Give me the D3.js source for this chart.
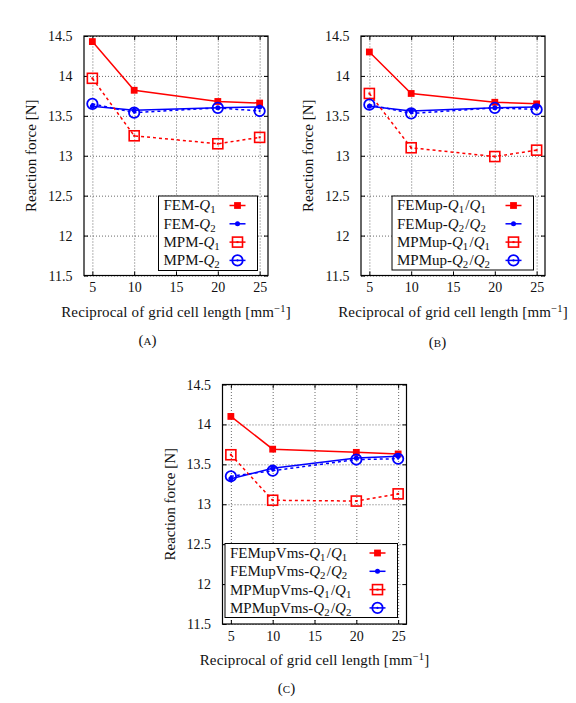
<!DOCTYPE html>
<html>
<head>
<meta charset="utf-8">
<script src="https://cdn.jsdelivr.net/npm/d3@7"></script>
<style>
  body { margin: 0; background: #fff; }
  svg { display: block; }
  .tick line { stroke: #000; }
  .domain { display: none; }
  .grid line { stroke: #444; stroke-width: 0.8; stroke-dasharray: 1,2; }
  .frame { fill: none; stroke: #000; stroke-width: 1.2; }
</style>
</head>
<body>
<div id="chart"></div>
<script>
// x positions (reciprocal of grid cell length)
const xValues = [5, 10, 20, 25]
const xTicks = [5, 10, 15, 20, 25]
const yTicks = [11.5, 12, 12.5, 13, 13.5, 14, 14.5]

// (A) FEM / MPM
const femQ1A = [14.43, 13.82, 13.68, 13.66]
const femQ2A = [13.62, 13.57, 13.60, 13.61]
const mpmQ1A = [13.97, 13.25, 13.15, 13.23]
const mpmQ2A = [13.65, 13.54, 13.60, 13.56]
const labelsA = ["FEM-Q_1", "FEM-Q_2", "MPM-Q_1", "MPM-Q_2"]

// (B) FEMup / MPMup
const femQ1B = [14.30, 13.78, 13.67, 13.65]
const femQ2B = [13.62, 13.56, 13.60, 13.61]
const mpmQ1B = [13.78, 13.10, 12.99, 13.07]
const mpmQ2B = [13.64, 13.53, 13.60, 13.58]
const labelsB = ["FEMup-Q_1/Q_1", "FEMup-Q_2/Q_2", "MPMup-Q_1/Q_1", "MPMup-Q_2/Q_2"]

// (C) FEMupVms / MPMupVms
const femQ1C = [14.10, 13.69, 13.65, 13.63]
const femQ2C = [13.32, 13.45, 13.58, 13.60]
const mpmQ1C = [13.62, 13.05, 13.04, 13.13]
const mpmQ2C = [13.35, 13.42, 13.56, 13.57]
const labelsC = ["FEMupVms-Q_1/Q_1", "FEMupVms-Q_2/Q_2", "MPMupVms-Q_1/Q_1", "MPMupVms-Q_2/Q_2"]

const captions = ["a", "b", "c"]

const SERIF = '"Liberation Serif", "Times New Roman", serif'
const width = 576
const height = 703
const plotW = 184
const plotH = 239.5

const red = "#f00"
const blue = "#00f"
// series styles in draw order
const styles = [
    {color: red, dash: null, marker: "fsquare"},
    {color: blue, dash: null, marker: "fcircle"},
    {color: red, dash: "3,3", marker: "osquare"},
    {color: blue, dash: "3,3", marker: "ocircle"}
]

const panels = [
    {left: 84, top: 36, series: [femQ1A, femQ2A, mpmQ1A, mpmQ2A], labels: labelsA,
     legend: {x: 158.5, y: 196, w: 99, h: 74.5}, cap: [147.5, 340]},
    {left: 361, top: 36, series: [femQ1B, femQ2B, mpmQ1B, mpmQ2B], labels: labelsB,
     legend: {x: 392, y: 196, w: 141.5, h: 74}, cap: [437.5, 341.5]},
    {left: 222.5, top: 384.5, series: [femQ1C, femQ2C, mpmQ1C, mpmQ2C], labels: labelsC,
     legend: {x: 225, y: 543.5, w: 172.5, h: 74}, cap: [286.5, 688]}
]

const svg = d3.select("#chart").append("svg")
    .attr("width", width)
    .attr("height", height)

svg.append("rect").attr("width", width).attr("height", height).attr("fill", "#fff")

// write "FEM-Q_1" style label as tspans
function richText(sel, str, size) {
    const parts = str.split(/(Q_\d)/)
    parts.forEach(function(p){
        if (p === "") return
        let m = p.match(/^Q_(\d)$/)
        if (m) {
            sel.append("tspan").style("font-style", "italic").text("Q")
            sel.append("tspan").attr("dy", 3).style("font-size", (size * 0.72) + "px").text(m[1])
            sel.append("tspan").attr("dy", -3).text("\u200a")
        } else {
            sel.append("tspan").text(p)
        }
    })
}

function drawMarker(g, type, color, cx, cy) {
    if (type == "fsquare") {
        g.append("rect").attr("x", cx - 3.4).attr("y", cy - 3.4)
            .attr("width", 6.8).attr("height", 6.8).attr("fill", color)
    } else if (type == "fcircle") {
        g.append("circle").attr("cx", cx).attr("cy", cy).attr("r", 2.5).attr("fill", color)
    } else if (type == "osquare") {
        g.append("rect").attr("x", cx - 5).attr("y", cy - 5)
            .attr("width", 10).attr("height", 10)
            .attr("fill", "none").attr("stroke", color).attr("stroke-width", 1.6)
        g.append("rect").attr("x", cx - 1).attr("y", cy - 1)
            .attr("width", 2).attr("height", 2).attr("fill", color)
    } else {
        g.append("circle").attr("cx", cx).attr("cy", cy).attr("r", 5.2)
            .attr("fill", "none").attr("stroke", color).attr("stroke-width", 1.8)
        g.append("circle").attr("cx", cx).attr("cy", cy).attr("r", 1.1).attr("fill", color)
    }
}

function drawPanel(p, idx) {
    const g = svg.append("g").attr("transform", "translate(" + p.left + "," + p.top + ")")

    const x = d3.scaleLinear().domain([4, 26]).range([0, plotW])
    const y = d3.scaleLinear().domain([11.5, 14.5]).range([plotH, 0])

    // dotted grid
    g.append("g").attr("class", "grid")
        .attr("transform", "translate(0," + plotH + ")")
        .call(d3.axisBottom(x).tickValues(xTicks).tickSize(-plotH).tickFormat(""))
    g.append("g").attr("class", "grid")
        .call(d3.axisLeft(y).tickValues(yTicks).tickSize(-plotW).tickFormat(""))

    // inward ticks with labels
    g.append("g")
        .attr("transform", "translate(0," + plotH + ")")
        .call(d3.axisBottom(x).tickValues(xTicks).tickSize(-4).tickPadding(12).tickFormat(d3.format("d")))
    g.append("g")
        .call(d3.axisTop(x).tickValues(xTicks).tickSize(-4).tickFormat(""))
    g.append("g")
        .call(d3.axisLeft(y).tickValues(yTicks).tickSize(-4).tickPadding(11.5).tickFormat(d => String(d)))
    g.append("g")
        .attr("transform", "translate(" + plotW + ",0)")
        .call(d3.axisRight(y).tickValues(yTicks).tickSize(-4).tickFormat(""))
    g.selectAll(".tick text")
        .attr("dy", null)
        .attr("dominant-baseline", "central")
        .style("font-size", "14px")
        .style("fill", "#111")

    // series
    const line = d3.line().x((d, i) => x(xValues[i])).y(d => y(d))
    p.series.forEach(function(vals, s){
        const st = styles[s]
        g.append("path")
            .datum(vals)
            .attr("d", line)
            .attr("fill", "none")
            .attr("stroke", st.color)
            .attr("stroke-width", 1.5)
            .attr("stroke-dasharray", st.dash)
        vals.forEach(function(v, i){
            drawMarker(g, st.marker, st.color, x(xValues[i]), y(v))
        })
    })

    g.append("rect").attr("class", "frame").attr("width", plotW).attr("height", plotH)

    // legend
    const lg = svg.append("g")
    lg.append("rect")
        .attr("x", p.legend.x).attr("y", p.legend.y)
        .attr("width", p.legend.w).attr("height", p.legend.h)
        .attr("fill", "#fff").attr("stroke", "#000").attr("stroke-width", 1)
    p.labels.forEach(function(lab, s){
        const cy = p.legend.y + 9.5 + s * 18.3
        const t = lg.append("text")
            .attr("x", p.legend.x + 5)
            .attr("y", cy)
            .attr("dy", "0.33em")
            .style("font-size", "15px")
        richText(t, lab, 15)
        const right = p.legend.x + p.legend.w
        lg.append("line")
            .attr("x1", right - 28).attr("x2", right - 12)
            .attr("y1", cy).attr("y2", cy)
            .attr("stroke", styles[s].color).attr("stroke-width", 1.5)
        drawMarker(lg, styles[s].marker, styles[s].color, right - 20, cy)
    })

    // axis labels
    svg.append("text")
        .attr("transform", "translate(" + (p.left - 53) + "," + (p.top + plotH / 2) + ") rotate(-90)")
        .attr("text-anchor", "middle")
        .attr("dy", "0.35em")
        .style("font-size", "15px")
        .text("Reaction force [N]")

    const xl = svg.append("text")
        .attr("x", p.left + plotW / 2)
        .attr("y", p.top + plotH + 36)
        .attr("dy", "0.35em")
        .attr("text-anchor", "middle")
        .style("font-size", "15px")
        .style("letter-spacing", "0.15px")
    xl.append("tspan").text("Reciprocal of grid cell length [mm")
    xl.append("tspan").attr("dy", -5).style("font-size", "10.5px").text("\u22121")
    xl.append("tspan").attr("dy", 5).text("]")

    svg.append("text")
        .attr("x", p.cap[0]).attr("y", p.cap[1])
        .attr("dy", "0.35em")
        .attr("text-anchor", "middle")
        .style("font-size", "15px")
        .style("font-variant", "small-caps")
        .text("(" + captions[idx] + ")")
}

panels.forEach(drawPanel)

svg.selectAll("text").style("font-family", SERIF).style("fill", "#111")
svg.selectAll("g").attr("font-family", null)
</script>
</body>
</html>
